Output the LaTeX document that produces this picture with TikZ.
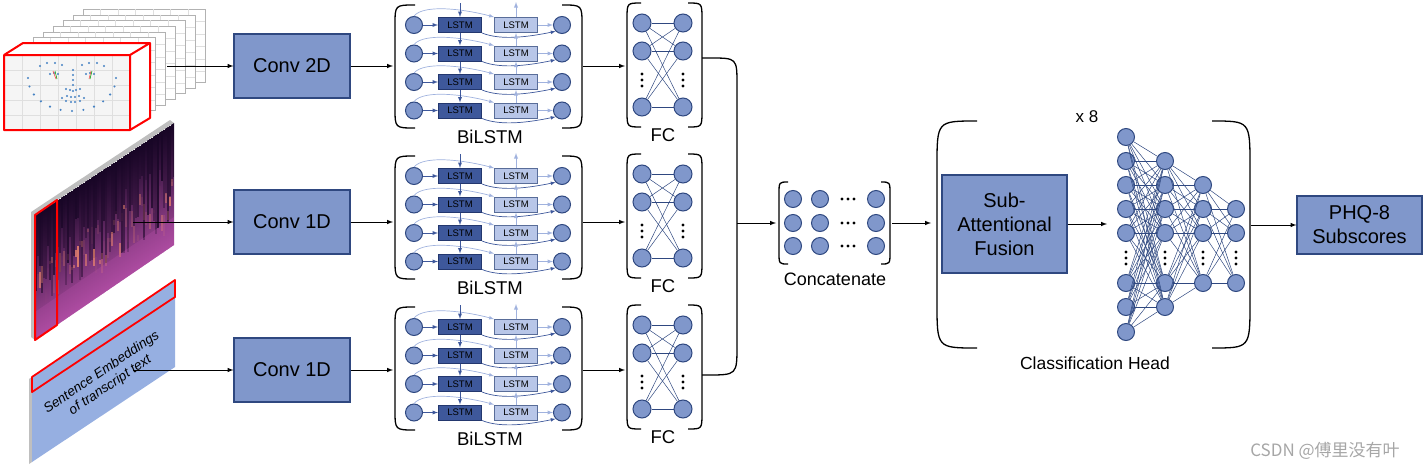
\documentclass[tikz,border=0pt]{standalone}
\usepackage{fontspec}
\setmainfont{Liberation Sans}
\newfontfamily\cjk{Noto Sans CJK SC}
\usetikzlibrary{calc}

\definecolor{nodeblue}{RGB}{128,151,203}
\definecolor{edgeblue}{RGB}{47,72,128}
\definecolor{lstmdark}{RGB}{62,88,155}
\definecolor{lstmedge}{RGB}{35,55,110}
\definecolor{lstmlight}{RGB}{184,198,232}
\definecolor{lightline}{RGB}{160,178,222}
\definecolor{planeblue}{RGB}{150,175,225}
\definecolor{dotblue}{RGB}{70,130,195}
\definecolor{specblack}{RGB}{24,6,38}
\definecolor{specdark}{RGB}{88,28,128}
\definecolor{specpink}{RGB}{178,78,165}
\definecolor{specorange}{RGB}{245,140,110}

\tikzset{
  >=latex,
  neuron/.style={circle, draw=edgeblue, fill=nodeblue, line width=1pt, minimum size=17pt, inner sep=0pt},
  block/.style={draw=edgeblue, fill=nodeblue, line width=1.2pt, align=center, font=\fontsize{20}{24}\selectfont},
  fwbox/.style={draw=lstmedge, fill=lstmdark, line width=1pt, minimum width=43pt, minimum height=15pt, inner sep=0pt, font=\fontsize{9.5}{10}\selectfont},
  bwbox/.style={draw=edgeblue!80, fill=lstmlight, line width=1pt, minimum width=43pt, minimum height=15pt, inner sep=0pt, font=\fontsize{9.5}{10}\selectfont},
  fwarrow/.style={->, draw=lstmdark, line width=0.9pt},
  bwarrow/.style={->, draw=lightline, line width=0.9pt},
  bracket/.style={line width=1.3pt},
  link/.style={draw=edgeblue, line width=0.5pt},
  flow/.style={->, line width=1pt},
  caption/.style={font=\fontsize{18.5}{21}\selectfont},
}

% #1 x of the straight part, #2 x of the ends, #3 top, #4 bottom, #5 curl
\newcommand{\parenpath}[5]{%
  \draw[bracket] (#2,#3) .. controls (#1,#3) .. (#1,{#3+#5}) -- (#1,{#4-#5}) .. controls (#1,#4) .. (#2,#4);}

\begin{document}
\begin{tikzpicture}[x=1pt,y=-1pt]
\useasboundingbox (0,0) rectangle (1425,469);

% face frames
\foreach \k in {0,...,5} {
  \pgfmathsetmacro\xo{83-10*\k}
  \pgfmathsetmacro\yo{9+5.7*\k}
  \draw[gray!60, fill=white] (\xo,\yo) rectangle ++(122,73);
  \foreach \g in {1,...,6} \draw[gray!25] ({\xo+17.5*\g},\yo) -- ++(0,73);
  \foreach \g in {1,...,5} \draw[gray!25] (\xo,{\yo+12.5*\g}) -- ++(122,0);
}
\fill[white] (4,55) -- (23,43) -- (150,43) -- (150,118) -- (130,130) -- (4,130) -- cycle;
\fill[gray!8] (4,55) rectangle (130,130);
\foreach \gx in {22,40,...,128} \draw[gray!25] (\gx,55) -- (\gx,130);
\foreach \gy in {70,85,...,128} \draw[gray!25] (4,\gy) -- (130,\gy);
\foreach \a in {0,15,...,180} \fill[dotblue] ({72+44*cos(\a)},{78+33*sin(\a)}) circle (1.2);
\foreach \p in {(40,66),(47,63),(55,63),(62,65),(82,65),(89,63),(97,63),(104,66),
  (50,74),(54,73),(58,74),(86,74),(90,73),(94,74),(73,70),(73,75),(73,80),(73,85),
  (66,89),(70,90),(73,91),(76,90),(80,89),(62,98),(67,96),(71,97),(75,97),(79,96),
  (84,98),(80,101),(75,102),(71,102),(66,101)}
  \fill[dotblue] \p circle (1.2);
\draw[red!70, line width=0.6pt] (53,71) -- (56,79);
\draw[green!60!black, line width=0.6pt] (55,71) -- (57,79);
\draw[red!70, line width=0.6pt] (91,71) -- (89,79);
\draw[green!60!black, line width=0.6pt] (92,71) -- (90,79);
\draw[red, line width=2pt, line join=round] (4,55) rectangle (130,130)
  (4,55) -- (23,43) -- (150,43) -- (130,55) (150,43) -- (150,118) -- (130,130);
\coordinate (face) at (167,66);

% spectrogram
\fill[gray!50] (31,212) -- (170,120) -- (174,123) -- (35,215) -- (35,340) -- (31,337) -- cycle;
\begin{scope}
  \clip (35,215) -- (174,123) -- (174,245) -- (35,340) -- cycle;
  \pgfmathsetseed{11}
  \foreach \i in {0,...,69} {
    \pgfmathsetmacro\xs{35+2*\i}
    \pgfmathsetmacro\yt{215-(\xs-35)*0.662}
    \shade[top color=specblack, middle color=specdark, bottom color=specpink]
      (\xs,\yt) rectangle ({\xs+2.2},{\yt+128});
  }
  \foreach \i in {0,...,69} {
    \pgfmathsetmacro\xs{35+2*\i}
    \pgfmathsetmacro\yt{215-(\xs-35)*0.662}
    \pgfmathsetmacro\ld{30+70*rnd}
    \pgfmathsetmacro\dop{0.25+0.6*rnd}
    \pgfmathsetmacro\lo{48+40*rnd}
    \pgfmathsetmacro\lh{3+18*rnd}
    \pgfmathsetmacro\op{0.85*rnd*rnd}
    \fill[specblack, opacity=\dop] (\xs,\yt) rectangle ({\xs+1.6},{\yt+\ld});
    \fill[specorange, opacity=\op] (\xs,{\yt+\lo}) rectangle ({\xs+2},{\yt+\lo+\lh});
  }
  \fill[specpink, opacity=0.35] (35,312) -- (174,217) -- (174,245) -- (35,340) -- cycle;
\end{scope}
\draw[red, line width=2pt, line join=round] (35,215) -- (57,200) -- (57,325) -- (35,340) -- cycle;
\coordinate (spec) at (133,222);

% transcript plane
\fill[gray!50] (29,379) -- (172,282) -- (175,280) -- (32,377) -- (32,462) -- (29,464) -- cycle;
\fill[planeblue] (32,377) -- (175,280) -- (175,367) -- (32,462) -- cycle;
\draw[red, line width=1.8pt, line join=round] (32,377) -- (175,280) -- (175,297) -- (32,392) -- cycle;
\node[rotate=34, align=center, font=\itshape\fontsize{13.5}{15.5}\selectfont] (txt) at (106,379)
  {Sentence Embeddings\\of transcript text};
\coordinate (text) at (133,370);
\coordinate (src-a) at (face);
\coordinate (src-b) at (spec);
\coordinate (src-c) at (text);

% three branches
\foreach \Y/\ay/\nm/\lab in {0/66/a/Conv 2D, 151/222/b/Conv 1D, 302/370/c/Conv 1D} {
  \node[block, minimum width=116pt, minimum height=64pt] (conv-\nm) at (292,\ay) {\lab};
  \draw[flow] (src-\nm) -- (conv-\nm);
  % BiLSTM
  \parenpath{395}{415}{\Y+5}{\Y+128}{20}
  \parenpath{582}{562}{\Y+5}{\Y+128}{20}
  \coordinate (\nm-entry) at (393,\ay);
  \coordinate (\nm-exit) at (583,\ay);
  \draw[flow] (conv-\nm) -- (\nm-entry);
  \coordinate (\nm-top) at (460,{\Y+3});
  \coordinate (\nm-topb) at (516,{\Y+2});
  \foreach \rw in {1,...,4} {
    \pgfmathsetmacro\yr{\Y+25+(\rw-1)*28.5}
    \node[neuron] (\nm-in\rw) at (414,\yr) {};
    \node[fwbox] (\nm-fw\rw) at (460,\yr) {LSTM};
    \node[bwbox] (\nm-bw\rw) at (516,\yr) {LSTM};
    \node[neuron] (\nm-out\rw) at (562,\yr) {};
    \draw[bwarrow, line width=0.7pt] (\nm-in\rw.north) .. controls +(10,-12) and +(-30,-8) .. (\nm-bw\rw.north west);
    \draw[fwarrow, line width=0.7pt] (\nm-fw\rw.south east) .. controls +(20,8) and +(-25,5) .. (\nm-out\rw.south west);
    \draw[fwarrow] (\nm-in\rw) -- (\nm-fw\rw);
    \draw[bwarrow] (\nm-bw\rw) -- (\nm-out\rw);
  }
  \draw[fwarrow] (\nm-top) -- (\nm-fw1);
  \draw[bwarrow] (\nm-bw1) -- (\nm-topb);
  \foreach \rw [evaluate=\rw as \nx using int(\rw+1)] in {1,2,3} {
    \draw[fwarrow] (\nm-fw\rw) -- (\nm-fw\nx);
    \draw[bwarrow] (\nm-bw\nx) -- (\nm-bw\rw);
  }
  \node[caption] (\nm-bilstm) at (490,{\Y+137}) {BiLSTM};
  % FC
  \parenpath{627}{641}{\Y+3}{\Y+127}{16}
  \parenpath{702}{688}{\Y+3}{\Y+127}{16}
  \coordinate (\nm-fcin) at (625,\ay);
  \draw[flow] (\nm-exit) -- (\nm-fcin);
  \foreach \dy [count=\j] in {23,51,107} {
    \node[neuron, minimum size=18pt] (\nm-p\j) at (642,{\Y+\dy}) {};
    \node[neuron, minimum size=18pt] (\nm-q\j) at (683,{\Y+\dy}) {};
  }
  \foreach \i in {1,2,3} \foreach \j in {1,2,3} \draw[link] (\nm-p\i) -- (\nm-q\j);
  \foreach \dy in {74,80,86} {
    \fill (642,{\Y+\dy}) circle (1.6);
    \fill (683,{\Y+\dy}) circle (1.6);
  }
  \node[caption] (\nm-fc) at (663,{\Y+135}) {FC};
}

% joining line
\draw[bracket] (702,58) -- (710,58) .. controls (737,58) .. (737,85) -- (737,345) .. controls (737,375) .. (707,375) -- (702,375);
\coordinate (joint) at (737,223);
\coordinate (catin) at (776,223);
\draw[flow] (joint) -- (catin);

% concatenate
\parenpath{779}{788}{182}{264}{12}
\parenpath{890}{881}{182}{264}{12}
\foreach \y [count=\i] in {199,223,246} {
  \node[neuron] (c\i-1) at (793,\y) {};
  \node[neuron] (c\i-2) at (820,\y) {};
  \node[neuron] (c\i-3) at (876,\y) {};
  \foreach \dx in {842,848,854} \fill (\dx,\y) circle (1.6);
}
\node[caption, font=\fontsize{18}{21}\selectfont] (concat) at (835,279) {Concatenate};
\coordinate (catout) at (892,223);
\coordinate (headin) at (931,223);
\draw[flow] (catout) -- (headin);

% classification head
\parenpath{937}{977}{121}{348}{45}
\parenpath{1250}{1212}{121}{348}{45}
\node[block, minimum width=125pt, minimum height=98pt, inner sep=0pt] (fusion) at (1004.5,224) {Sub-\\Attentional\\Fusion};
\node[caption, font=\fontsize{17}{19}\selectfont] (rep) at (1087,117) {x 8};
\node[caption, font=\fontsize{17.5}{20}\selectfont] (head) at (1095,363) {Classification Head};
\coordinate (mlpin) at (1107,224);
\draw[flow] (fusion) -- (mlpin);
\foreach \y [count=\j] in {137,161,185,209,233,283,307,332} \node[neuron] (h1-\j) at (1126,\y) {};
\foreach \y [count=\j] in {161,185,209,233,283,307} \node[neuron] (h2-\j) at (1165,\y) {};
\foreach \y [count=\j] in {185,209,233,283} \node[neuron] (h3-\j) at (1203,\y) {};
\foreach \y [count=\j] in {209,233,283} \node[neuron] (h4-\j) at (1236,\y) {};
\foreach \a in {1,...,8} \foreach \b in {1,...,6} \draw[link] (h1-\a) -- (h2-\b);
\foreach \a in {1,...,6} \foreach \b in {1,...,4} \draw[link] (h2-\a) -- (h3-\b);
\foreach \a in {1,...,4} \foreach \b in {1,...,3} \draw[link] (h3-\a) -- (h4-\b);
\foreach \x in {1126,1165,1203,1236} \foreach \d in {252,258,264} \fill (\x,\d) circle (1.6);
\coordinate (headout) at (1251,225);

% output
\node[block, minimum width=125pt, minimum height=58pt, inner sep=0pt] (phq) at (1359.5,225) {PHQ-8\\Subscores};
\draw[flow] (headout) -- (phq);

\node[text=gray!70, font=\cjk\fontsize{17}{19}\selectfont] (mark) at (1325,451) {CSDN @傅里没有叶};
\end{tikzpicture}
\end{document}
